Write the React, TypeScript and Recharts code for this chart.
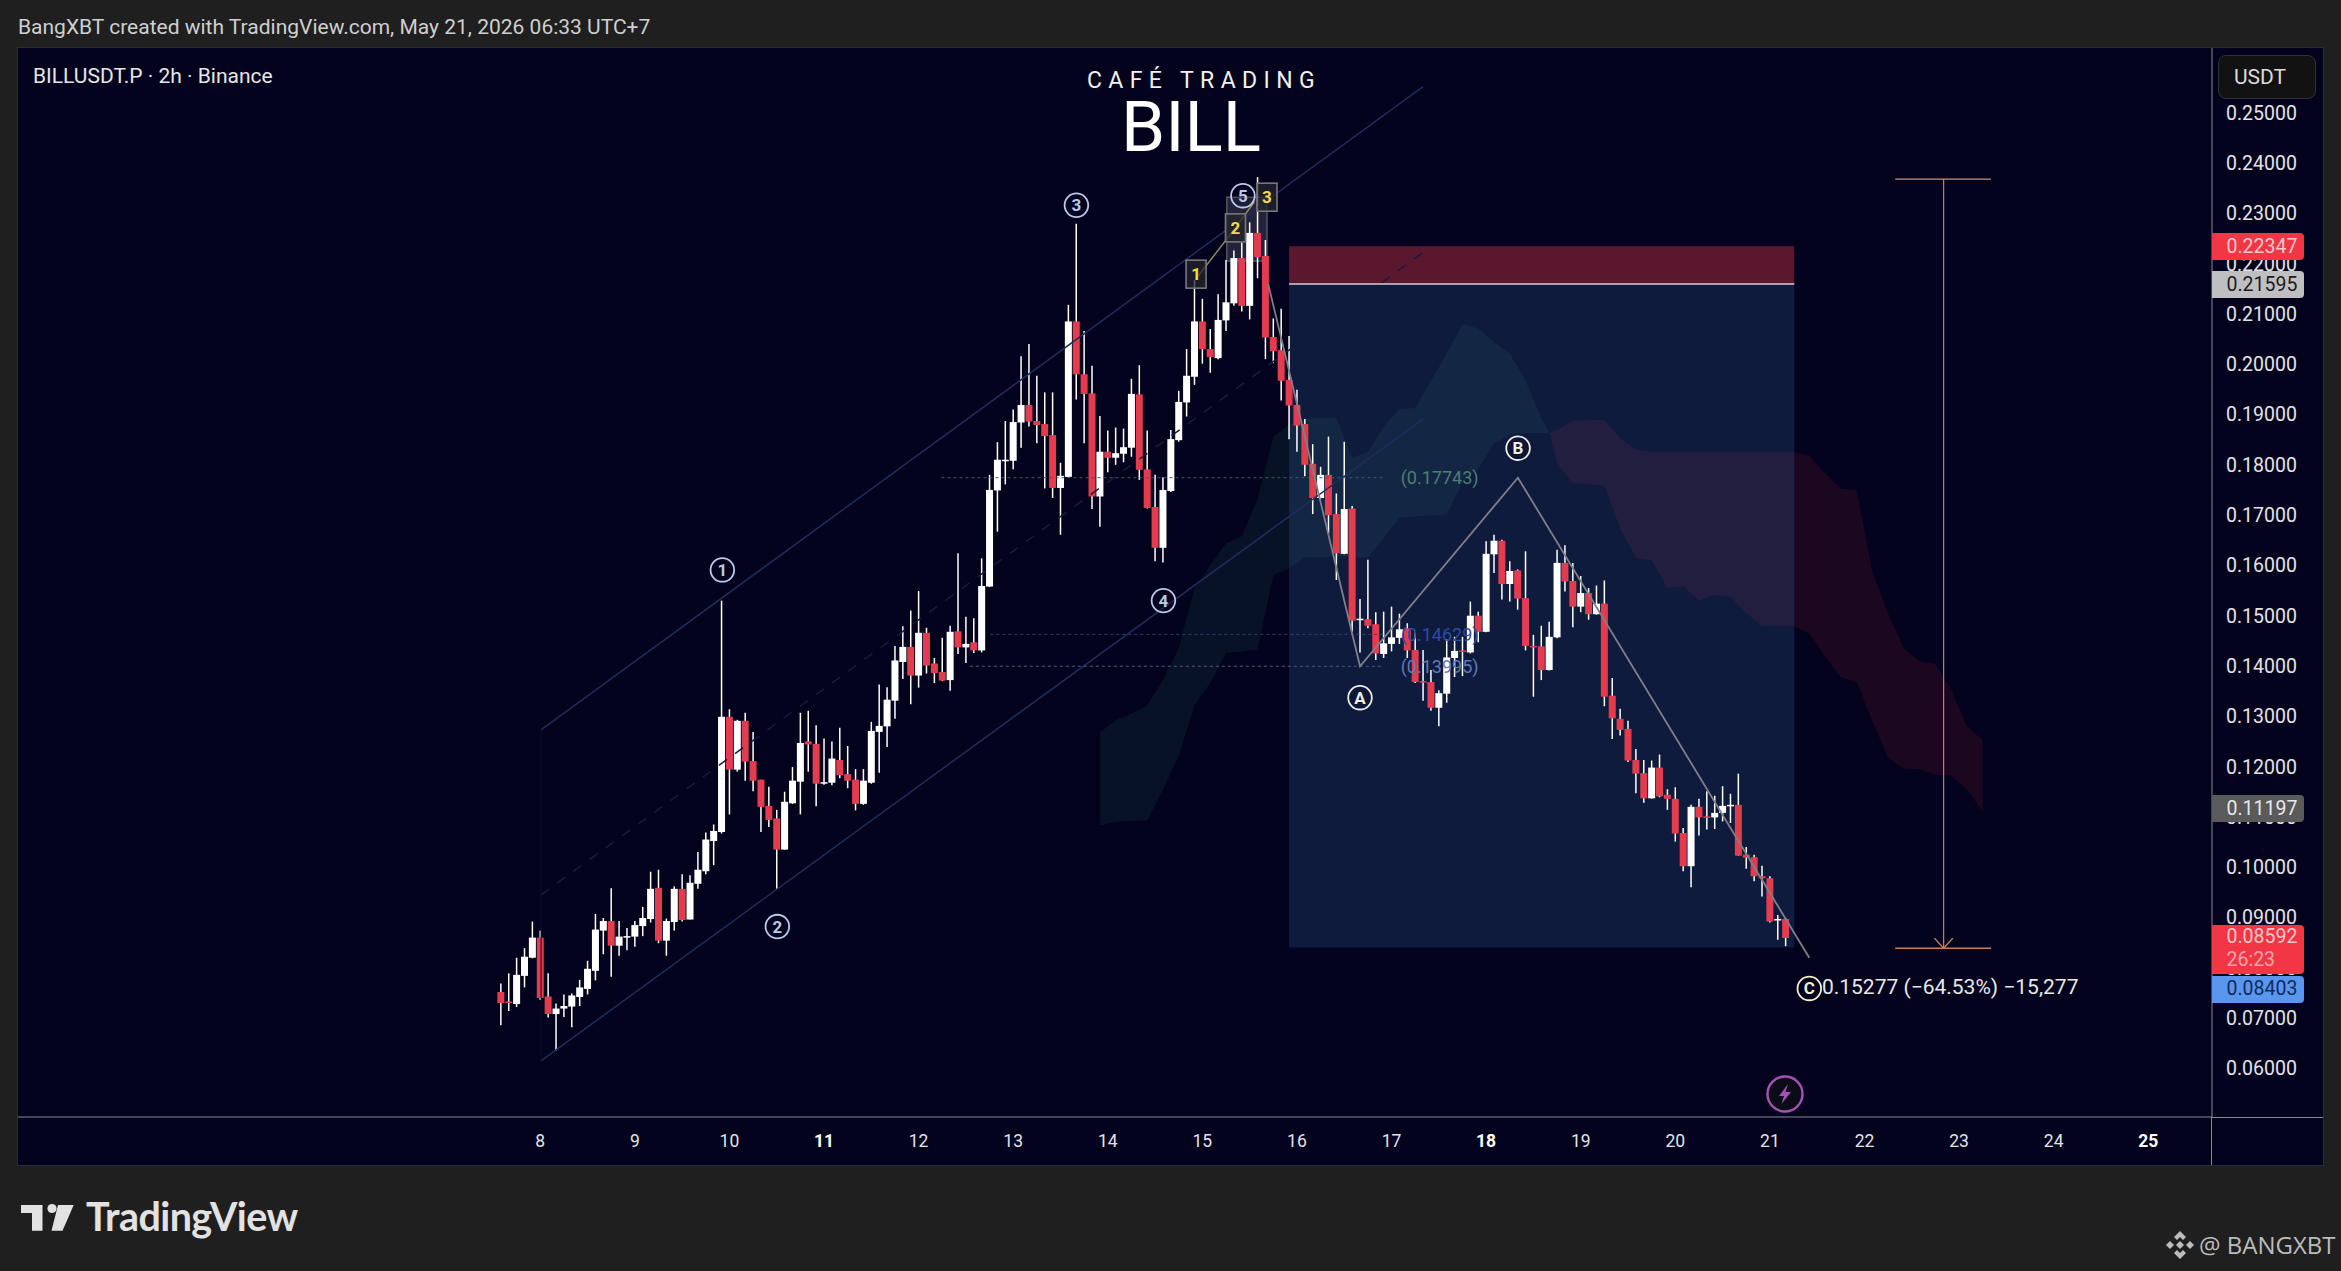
import {
  Area,
  Bar,
  ComposedChart,
  Line,
  ReferenceArea,
  ReferenceDot,
  ReferenceLine,
  XAxis,
  YAxis,
} from "recharts";

const FONT = "Roboto, sans-serif";
const RED = "#e23c4e";
const BODY_WIDTH = 7;

// 2h candles
const highs = [
  0.0769, 0.0789, 0.082, 0.0839, 0.0892, 0.0874, 0.0789, 0.0729, 0.0747, 0.0749,
  0.0776, 0.0814, 0.0907, 0.0899, 0.0958, 0.0893, 0.0879, 0.0893, 0.0921, 0.0991,
  0.0995, 0.0898, 0.0962, 0.0986, 0.0984, 0.103, 0.1069, 0.1085, 0.153, 0.1314,
  0.1293, 0.1307, 0.1269, 0.1174, 0.116, 0.1114, 0.115, 0.1199, 0.1307, 0.1311,
  0.1282, 0.1256, 0.125, 0.1277, 0.1241, 0.1195, 0.1195, 0.1289, 0.1363, 0.1358,
  0.144, 0.1479, 0.151, 0.1549, 0.1476, 0.1416, 0.1456, 0.148, 0.1624, 0.1498,
  0.1495, 0.1614, 0.178, 0.1845, 0.1887, 0.191, 0.2016, 0.204, 0.1977, 0.1944,
  0.1944, 0.1804, 0.2118, 0.2279, 0.2066, 0.1997, 0.1897, 0.1868, 0.1874, 0.1872,
  0.1971, 0.1998, 0.1868, 0.178, 0.1775, 0.1869, 0.1947, 0.203, 0.2167, 0.213,
  0.207, 0.2139, 0.2207, 0.2226, 0.2242, 0.2282, 0.2372, 0.2247, 0.2091, 0.211,
  0.2056, 0.1949, 0.1891, 0.1841, 0.1796, 0.1856, 0.1743, 0.1846, 0.1718, 0.1533,
  0.1611, 0.1507, 0.1508, 0.1518, 0.1504, 0.1485, 0.1464, 0.1432, 0.1392, 0.1352,
  0.1453, 0.1458, 0.1458, 0.1528, 0.1508, 0.1648, 0.1661, 0.1651, 0.1608, 0.1592,
  0.1628, 0.1462, 0.148, 0.1488, 0.1631, 0.164, 0.1605, 0.1579, 0.1555, 0.156,
  0.157, 0.1376, 0.1315, 0.1291, 0.1235, 0.1213, 0.1212, 0.1224, 0.1155, 0.1159,
  0.1078, 0.1124, 0.1136, 0.1151, 0.1142, 0.1161, 0.1146, 0.1186, 0.104, 0.1025,
  0.1003, 0.0982, 0.0905, 0.0899,
];

const lows = [
  0.0686, 0.0714, 0.0722, 0.0761, 0.0819, 0.0736, 0.0701, 0.0635, 0.0702, 0.0682,
  0.0724, 0.0747, 0.0775, 0.0827, 0.0782, 0.0824, 0.0835, 0.0842, 0.0863, 0.089,
  0.0849, 0.0824, 0.0874, 0.0892, 0.0896, 0.0957, 0.0986, 0.1004, 0.1067, 0.1105,
  0.119, 0.1172, 0.1151, 0.107, 0.108, 0.0957, 0.1035, 0.1126, 0.1105, 0.119,
  0.1121, 0.1164, 0.1163, 0.1177, 0.1157, 0.1113, 0.1124, 0.1166, 0.1188, 0.1239,
  0.1295, 0.1374, 0.1324, 0.1357, 0.1385, 0.1366, 0.137, 0.1351, 0.1424, 0.1406,
  0.1426, 0.1427, 0.1557, 0.1667, 0.1761, 0.1791, 0.1834, 0.1876, 0.1843, 0.1753,
  0.1734, 0.1661, 0.1775, 0.193, 0.1843, 0.1712, 0.1677, 0.1785, 0.18, 0.1805,
  0.1816, 0.177, 0.1713, 0.1608, 0.1606, 0.1746, 0.1846, 0.1896, 0.1959, 0.2001,
  0.1983, 0.201, 0.2066, 0.2116, 0.2105, 0.2089, 0.2171, 0.201, 0.2002, 0.1928,
  0.1851, 0.1826, 0.1777, 0.1702, 0.1733, 0.1664, 0.1571, 0.1622, 0.1468, 0.1427,
  0.1475, 0.1412, 0.1416, 0.1429, 0.1444, 0.1416, 0.1366, 0.1331, 0.1311, 0.128,
  0.1327, 0.1378, 0.138, 0.1425, 0.1447, 0.1467, 0.1585, 0.1532, 0.1528, 0.1512,
  0.1431, 0.1339, 0.1372, 0.1391, 0.1455, 0.1548, 0.1477, 0.1507, 0.1492, 0.1502,
  0.132, 0.1255, 0.1262, 0.1209, 0.1147, 0.1128, 0.1136, 0.1139, 0.1114, 0.1051,
  0.0992, 0.096, 0.1063, 0.1075, 0.1076, 0.1091, 0.1088, 0.1023, 0.0997, 0.0972,
  0.0942, 0.089, 0.0856, 0.0843,
];

const opens = [
  0.0752, 0.0733, 0.0728, 0.0784, 0.082, 0.086, 0.0743, 0.0708, 0.0719, 0.0723,
  0.0742, 0.0758, 0.0794, 0.0874, 0.0893, 0.0844, 0.086, 0.0862, 0.0883, 0.0897,
  0.0959, 0.0854, 0.0891, 0.0957, 0.0896, 0.0967, 0.0992, 0.1052, 0.107, 0.1299,
  0.1194, 0.1291, 0.1211, 0.1174, 0.1122, 0.1097, 0.1035, 0.1127, 0.117, 0.125,
  0.1245, 0.1166, 0.1168, 0.1213, 0.1185, 0.1174, 0.1126, 0.1168, 0.1269, 0.128,
  0.1331, 0.1408, 0.1438, 0.1381, 0.1466, 0.1405, 0.1388, 0.1372, 0.1469, 0.1437,
  0.1447, 0.1431, 0.1558, 0.1749, 0.1808, 0.1808, 0.1884, 0.1919, 0.1887, 0.1881,
  0.1859, 0.1754, 0.1776, 0.2085, 0.198, 0.1942, 0.1737, 0.1826, 0.1814, 0.1822,
  0.1834, 0.194, 0.1791, 0.1716, 0.1635, 0.1748, 0.1849, 0.1924, 0.1975, 0.2085,
  0.203, 0.2012, 0.2087, 0.2121, 0.2211, 0.2116, 0.2261, 0.2215, 0.2054, 0.2028,
  0.1969, 0.1919, 0.1881, 0.1802, 0.1734, 0.178, 0.1702, 0.1623, 0.1713, 0.1492,
  0.1493, 0.1483, 0.1424, 0.1444, 0.1456, 0.1475, 0.1432, 0.137, 0.1368, 0.1317,
  0.1345, 0.1416, 0.1431, 0.1427, 0.15, 0.1468, 0.1622, 0.1649, 0.1563, 0.159,
  0.1535, 0.144, 0.1439, 0.1392, 0.1457, 0.1605, 0.1569, 0.1518, 0.1545, 0.1503,
  0.1524, 0.1341, 0.1295, 0.1275, 0.1213, 0.1187, 0.1137, 0.1198, 0.1144, 0.1136,
  0.1068, 0.1002, 0.112, 0.1101, 0.1099, 0.1108, 0.1122, 0.1124, 0.1025, 0.102,
  0.0982, 0.0978, 0.0895, 0.0897,
];

const closes = [
  0.073, 0.073, 0.0786, 0.0822, 0.086, 0.074, 0.0708, 0.0719, 0.0724, 0.0745,
  0.0761, 0.0798, 0.0876, 0.0893, 0.0844, 0.0862, 0.0863, 0.0885, 0.0899, 0.0957,
  0.0854, 0.0893, 0.0957, 0.0895, 0.0969, 0.0995, 0.1055, 0.1072, 0.1299, 0.1194,
  0.1291, 0.121, 0.1172, 0.112, 0.1094, 0.1035, 0.113, 0.1172, 0.1247, 0.1244,
  0.1166, 0.1169, 0.1216, 0.1183, 0.1172, 0.1126, 0.1172, 0.1271, 0.1281, 0.1333,
  0.1411, 0.1438, 0.1381, 0.1466, 0.1401, 0.1386, 0.1371, 0.1468, 0.1437, 0.1444,
  0.1431, 0.1559, 0.175, 0.181, 0.181, 0.1885, 0.1919, 0.1886, 0.1879, 0.1857,
  0.1754, 0.1778, 0.2085, 0.198, 0.1941, 0.1737, 0.1826, 0.1814, 0.1823, 0.1835,
  0.1941, 0.179, 0.1714, 0.1635, 0.175, 0.1851, 0.1925, 0.1977, 0.2085, 0.203,
  0.2014, 0.2088, 0.2123, 0.2211, 0.2116, 0.2261, 0.2213, 0.2053, 0.2026, 0.1967,
  0.1918, 0.1878, 0.18, 0.1734, 0.178, 0.17, 0.1624, 0.1712, 0.149, 0.1494,
  0.148, 0.1425, 0.1445, 0.1457, 0.1473, 0.1431, 0.1368, 0.1368, 0.1317, 0.1346,
  0.1417, 0.143, 0.1428, 0.15, 0.1468, 0.1623, 0.1649, 0.1563, 0.1589, 0.1534,
  0.144, 0.1437, 0.1392, 0.1458, 0.1605, 0.1568, 0.1518, 0.1545, 0.1503, 0.1524,
  0.1339, 0.1296, 0.1273, 0.1212, 0.1186, 0.1137, 0.1198, 0.1141, 0.1136, 0.1067,
  0.1002, 0.112, 0.1099, 0.1099, 0.1108, 0.1122, 0.1124, 0.1023, 0.1019, 0.0982,
  0.0978, 0.0892, 0.0897, 0.08592,
];

// ichimoku cloud, sampled every other candle
const greenIdx = [76, 78, 80, 82, 84, 86, 88, 90, 92, 94, 96, 98, 100, 102, 104, 106, 108, 110, 112, 114, 116, 118, 120, 122, 124, 126, 128, 130, 132, 133];
const greenTop = [0.1268, 0.1292, 0.1305, 0.1322, 0.1372, 0.1436, 0.1554, 0.1601, 0.1644, 0.1658, 0.1732, 0.1856, 0.188, 0.1892, 0.1893, 0.1894, 0.1814, 0.1826, 0.1876, 0.1911, 0.1913, 0.1967, 0.2021, 0.208, 0.2071, 0.2044, 0.2021, 0.1967, 0.1893, 0.1863];
const greenBottom = [0.1083, 0.109, 0.1092, 0.1093, 0.1154, 0.1221, 0.1322, 0.1366, 0.1426, 0.1429, 0.1433, 0.1581, 0.1594, 0.1616, 0.1616, 0.1616, 0.1616, 0.1616, 0.1654, 0.1695, 0.1697, 0.1699, 0.1701, 0.1765, 0.1792, 0.1843, 0.1859, 0.1863, 0.1863, 0.1863];

const redIdx = [133, 134, 136, 138, 140, 142, 144, 146, 148, 150, 152, 154, 156, 158, 160, 162, 164, 166, 168, 170, 172, 174, 176, 178, 180, 182, 184, 186, 188];
const redTop = [0.1863, 0.1869, 0.1888, 0.1889, 0.1889, 0.1853, 0.183, 0.1826, 0.1826, 0.1826, 0.1826, 0.1826, 0.1826, 0.1826, 0.1826, 0.1826, 0.1826, 0.1818, 0.1783, 0.1753, 0.175, 0.1588, 0.1505, 0.1435, 0.1409, 0.1404, 0.1353, 0.128, 0.1253];
const redBottom = [0.1863, 0.1803, 0.1763, 0.1762, 0.1758, 0.1674, 0.1614, 0.161, 0.1555, 0.1559, 0.153, 0.1541, 0.1537, 0.1505, 0.148, 0.148, 0.1479, 0.1465, 0.1419, 0.1377, 0.1369, 0.129, 0.1217, 0.1196, 0.1194, 0.1184, 0.1182, 0.1154, 0.1111];

const dayLabels = ["8", "9", "10", "11", "12", "13", "14", "15", "16", "17", "18", "19", "20", "21", "22", "23", "24", "25"];
const dayTicks = [5, 17, 29, 41, 53, 65, 77, 89, 101, 113, 125, 137, 149, 161, 173, 185, 197, 209];
const boldDays = ["11", "18", "25"];
const priceTicks = [0.06, 0.07, 0.08, 0.09, 0.1, 0.11, 0.12, 0.13, 0.14, 0.15, 0.16, 0.17, 0.18, 0.19, 0.2, 0.21, 0.22, 0.23, 0.24, 0.25];

const abcPath = [
  { i: 97.35, p: 0.21595 },
  { i: 109, p: 0.13995 },
  { i: 129.03, p: 0.17743 },
  { i: 166, p: 0.082 },
];
const ratePath = [
  { i: 88.1, p: 0.2168 },
  { i: 93, p: 0.2267 },
  { i: 95.6, p: 0.2323 },
];

const waveLabels = [
  { t: "1", i: 28.1, p: 0.1591, c: "#b9c8ec" },
  { t: "2", i: 35.08, p: 0.0882, c: "#b9c8ec" },
  { t: "3", i: 73.02, p: 0.2316, c: "#b9c8ec" },
  { t: "4", i: 84.06, p: 0.153, c: "#b9c8ec" },
  { t: "5", i: 94.14, p: 0.2335, c: "#b9c8ec" },
  { t: "A", i: 109, p: 0.1337, c: "#eeeee2" },
  { t: "B", i: 129.05, p: 0.1833, c: "#eeeee2" },
  { t: "C", i: 166, p: 0.0759, c: "#f2eec8" },
];

const rateBoxes = [
  { t: "1", i: 88.2, p: 0.2179 },
  { t: "2", i: 93.2, p: 0.2271 },
  { t: "3", i: 97.2, p: 0.2332 },
];

const fibLines = [
  { p: 0.17743, from: 55.9, label: "(0.17743)", color: "#4d7f74", line: "#3b5a5e" },
  { p: 0.14629, from: 62.1, label: "(0.14629)", color: "#2c4da6", line: "#2f3f78" },
  { p: 0.13995, from: 59.5, label: "(0.13995)", color: "#607ab8", line: "#4a5a8c" },
];

const channelLines = [
  { a: { x: 5.1, y: 0.1273 }, b: { x: 117, y: 0.2552 }, dash: undefined },
  { a: { x: 5.1, y: 0.0945 }, b: { x: 117, y: 0.2222 }, dash: "10 10" },
  { a: { x: 5.1, y: 0.0615 }, b: { x: 117, y: 0.1891 }, dash: undefined },
];

const candles = highs.map((h, i) => ({ i, high: h, low: lows[i], open: opens[i], close: closes[i] }));
const greenCloud = greenIdx.map((i, n) => ({ i, band: [greenBottom[n], greenTop[n]] }));
const redCloud = redIdx.map((i, n) => ({ i, band: [redBottom[n], redTop[n]] }));

function Candle(props: any) {
  const { x, y, width, height, payload } = props;
  if (!payload || payload.high == null) return null;
  const perUnit = height / (payload.high - payload.low);
  const top = y + (payload.high - Math.max(payload.open, payload.close)) * perUnit;
  const bot = y + (payload.high - Math.min(payload.open, payload.close)) * perUnit;
  const up = payload.close >= payload.open;
  const mid = x + (width || 0) / 2;
  return (
    <g>
      <line x1={mid} x2={mid} y1={y} y2={y + height} stroke="#ffffff" strokeWidth={1.5} />
      <rect x={mid - BODY_WIDTH / 2} y={top} width={BODY_WIDTH} height={Math.max(bot - top, 1.5)} fill={up ? "#ffffff" : RED} />
    </g>
  );
}

function DayTick(props: any) {
  const { x, y, payload } = props;
  const label = dayLabels[dayTicks.indexOf(payload.value)];
  const bold = boldDays.includes(label);
  return (
    <text x={x} y={y + 22} textAnchor="middle" fontFamily={FONT} fontSize={17.5} fontWeight={bold ? 700 : 400} fill={bold ? "#ffffff" : "#e2e2e6"}>
      {label}
    </text>
  );
}

function PriceTag({ top, height, bg, color, text, sub }: { top: number; height: number; bg: string; color: string; text: string; sub?: string }) {
  return (
    <div style={{ position: "absolute", left: 2212, top, width: 92, height, background: bg, borderRadius: "0 4px 4px 0", color, fontFamily: FONT, fontSize: 19.5, lineHeight: sub ? "23px" : `${height}px`, paddingLeft: 14.5, boxSizing: "border-box" }}>
      <div>{text}</div>
      {sub ? <div style={{ opacity: 0.75 }}>{sub}</div> : null}
    </div>
  );
}

export default function App() {
  return (
    <div style={{ position: "absolute", left: 0, top: 0, width: 2341, height: 1271, background: "#1f1f1f", overflow: "hidden" }}>
      <div style={{ position: "absolute", left: 18, top: 16, color: "#cfcfcf", fontFamily: FONT, fontSize: 21, lineHeight: "22px", whiteSpace: "nowrap" }}>
        BangXBT created with TradingView.com, May 21, 2026 06:33 UTC+7
      </div>
      <div style={{ position: "absolute", left: 18, top: 48, width: 2305, height: 1117, background: "#03031e", outline: "1px solid #2c2c36" }} />
      <div style={{ position: "absolute", left: 2212, top: 1117, width: 111, height: 1, background: "#85859a" }} />
      <div style={{ position: "absolute", left: 2211, top: 1117, width: 1, height: 48, background: "#85859a" }} />

      <div style={{ position: "absolute", left: 0, top: 0 }}>
        <ComposedChart width={2341} height={1271} data={candles} margin={{ top: 48, right: 18, bottom: 105, left: 18 }}>
          <XAxis
            dataKey="i"
            type="number"
            scale="linear"
            domain={[-61.26, 217.09]}
            allowDataOverflow
            ticks={dayTicks}
            interval={0}
            height={49}
            tickLine={false}
            axisLine={{ stroke: "#85859a", strokeWidth: 1 }}
            tick={<DayTick />}
          />
          <YAxis
            orientation="right"
            type="number"
            domain={[0.05034, 0.26286]}
            allowDataOverflow
            ticks={priceTicks}
            interval={0}
            width={111}
            tickLine={false}
            tickMargin={8}
            axisLine={{ stroke: "#85859a", strokeWidth: 1 }}
            tick={{ fill: "#e3e3e6", fontSize: 19.5, fontFamily: FONT }}
            tickFormatter={(v: number) => v.toFixed(5)}
          />

          <Area data={greenCloud} dataKey="band" type="linear" stroke="none" fill="#2c8060" fillOpacity={0.125} isAnimationActive={false} />
          <Area data={redCloud} dataKey="band" type="linear" stroke="none" fill="#a8202f" fillOpacity={0.15} isAnimationActive={false} />

          <ReferenceArea x1={100} x2={164.09} y1={0.08403} y2={0.21595} fill="#33639a" fillOpacity={0.25} stroke="none" />
          <ReferenceArea x1={100} x2={164.09} y1={0.21595} y2={0.22347} fill="#5a182e" fillOpacity={1} stroke="none" />
          <ReferenceLine segment={[{ x: 100, y: 0.21595 }, { x: 164.09, y: 0.21595 }]} stroke="#d8ccd4" strokeWidth={1.5} />
          <ReferenceArea x1={92.1} x2={97.2} y1={0.2205} y2={0.2332} fill="#ffffff" fillOpacity={0.13} stroke="#55555c" strokeWidth={1.5} />

          {channelLines.map((c, n) => (
            <ReferenceLine key={n} segment={[c.a, c.b]} stroke={c.dash ? "#171c3c" : "#222c5c"} strokeWidth={1.5} strokeDasharray={c.dash} />
          ))}
          <ReferenceLine segment={[{ x: 5.1, y: 0.1273 }, { x: 5.1, y: 0.0615 }]} stroke="#0c0f29" strokeWidth={1} />

          {fibLines.map((f) => (
            <ReferenceLine key={f.p} segment={[{ x: f.from, y: f.p }, { x: 112, y: f.p }]} stroke={f.line} strokeWidth={1} strokeDasharray="3 3" />
          ))}
          {fibLines.map((f) => (
            <ReferenceDot
              key={f.label}
              x={119.1}
              y={f.p}
              r={1}
              shape={(s: any) => (
                <text x={s.cx} y={s.cy + 6.5} textAnchor="middle" fontFamily={FONT} fontSize={18} fill={f.color}>
                  {f.label}
                </text>
              )}
            />
          ))}

          {/* measure tool */}
          <ReferenceLine segment={[{ x: 183.04, y: 0.2368 }, { x: 183.04, y: 0.0839 }]} stroke="#c08068" strokeWidth={1.2} />
          <ReferenceLine segment={[{ x: 176.9, y: 0.2368 }, { x: 189.05, y: 0.2368 }]} stroke="#c9927a" strokeWidth={1.4} />
          <ReferenceLine segment={[{ x: 176.9, y: 0.0839 }, { x: 189.05, y: 0.0839 }]} stroke="#c08068" strokeWidth={1.4} />
          <ReferenceLine segment={[{ x: 183.04, y: 0.0839 }, { x: 181.87, y: 0.0859 }]} stroke="#c08068" strokeWidth={1.4} />
          <ReferenceLine segment={[{ x: 183.04, y: 0.0839 }, { x: 184.21, y: 0.0859 }]} stroke="#c08068" strokeWidth={1.4} />

          <Line data={abcPath} dataKey="p" stroke="#7f7f88" strokeWidth={1.8} dot={false} isAnimationActive={false} />

          <Bar dataKey={(d: any) => [d.low, d.high]} barSize={BODY_WIDTH} shape={<Candle />} isAnimationActive={false} />

          <Line data={ratePath} dataKey="p" stroke="#8b8a5c" strokeWidth={1.5} dot={false} isAnimationActive={false} />

          {rateBoxes.map((b) => (
            <ReferenceDot
              key={b.t}
              x={b.i}
              y={b.p}
              r={1}
              shape={(s: any) => (
                <g>
                  <rect x={s.cx - 10} y={s.cy - 14} width={20} height={28} fill="#26262c" fillOpacity={0.75} stroke="#77777c" strokeWidth={1.6} />
                  <text x={s.cx} y={s.cy + 6} textAnchor="middle" fontFamily={FONT} fontSize={17} fontWeight={700} fill="#efdc4a">
                    {b.t}
                  </text>
                </g>
              )}
            />
          ))}
          {waveLabels.map((w) => (
            <ReferenceDot
              key={w.t}
              x={w.i}
              y={w.p}
              r={1}
              shape={(s: any) => (
                <g>
                  <circle cx={s.cx} cy={s.cy} r={11.8} fill="#03031e" fillOpacity={0.15} stroke={w.c} strokeWidth={1.8} />
                  <text x={s.cx} y={s.cy + 6} textAnchor="middle" fontFamily={FONT} fontSize={17} fontWeight={700} fill={w.c}>
                    {w.t}
                  </text>
                </g>
              )}
            />
          ))}
          <ReferenceDot
            x={167.6}
            y={0.0762}
            r={1}
            shape={(s: any) => (
              <text x={s.cx} y={s.cy + 7} fontFamily={FONT} fontSize={21} fill="#e8e8e8">
                0.15277 (−64.53%) −15,277
              </text>
            )}
          />
        </ComposedChart>
      </div>

      <div style={{ position: "absolute", left: 33, top: 64, color: "#e6e6e6", fontFamily: FONT, fontSize: 21, lineHeight: "24px", whiteSpace: "nowrap" }}>
        BILLUSDT.P · 2h · Binance
      </div>
      <div style={{ position: "absolute", left: 1004, top: 67, width: 400, textAlign: "center", color: "#f2f2f2", fontFamily: FONT, fontSize: 23, lineHeight: "28px", letterSpacing: 6.4 }}>
        CAFÉ TRADING
      </div>
      <div style={{ position: "absolute", left: 991, top: 86, width: 400, textAlign: "center", color: "#ffffff", fontFamily: FONT, fontSize: 71, lineHeight: "82px" }}>
        BILL
      </div>

      <div style={{ position: "absolute", left: 2218, top: 55, width: 98, height: 44, boxSizing: "border-box", background: "#121212", border: "1px solid #30303a", borderRadius: 8, color: "#dcdcdc", fontFamily: FONT, fontSize: 21, lineHeight: "42px", paddingLeft: 15 }}>
        USDT
      </div>

      <PriceTag top={232.5} height={27} bg="#f23645" color="#f6c9cd" text="0.22347" />
      <PriceTag top={271} height={27} bg="#bfbfc2" color="#1c1c1c" text="0.21595" />
      <PriceTag top={794.5} height={27} bg="#5a5a5a" color="#e8e8e8" text="0.11197" />
      <PriceTag top={925} height={49} bg="#f23645" color="#f6c9cd" text="0.08592" sub="26:23" />
      <PriceTag top={976} height={26.5} bg="#5a96ee" color="#0f2a5c" text="0.08403" />

      {/* alert marker */}
      <svg style={{ position: "absolute", left: 1765, top: 1074 }} width={40} height={40}>
        <circle cx={20} cy={20} r={17.5} fill="#0c0c18" stroke="#a352b2" strokeWidth={2.4} />
        <path d="M23 10 L14 22 H19 L16.5 30 L26 18 H20.5 Z" fill="#a352b2" />
      </svg>

      {/* footer logo */}
      <svg style={{ position: "absolute", left: 18, top: 1200 }} width={60} height={36} fill="#e2e2e2">
        <path d="M3 5 H24.5 V30.7 H14 V13 H3 Z" />
        <circle cx={34} cy={8.5} r={4.6} />
        <path d="M40 5 H55.7 L44.5 30.7 H33.5 Z" />
      </svg>
      <div style={{ position: "absolute", left: 86, top: 1193, color: "#e2e2e2", fontFamily: "Lato, sans-serif", fontWeight: 700, fontSize: 39.5, lineHeight: "46px", letterSpacing: -0.6, whiteSpace: "nowrap" }}>
        TradingView
      </div>

      <svg style={{ position: "absolute", left: 2165, top: 1230 }} width={30} height={30} fill="#bdbdbd">
        <path d="M15 1 L21 7 L18 10 L15 7 L12 10 L9 7 Z" />
        <path d="M15 29 L21 23 L18 20 L15 23 L12 20 L9 23 Z" />
        <path d="M5 11 L9 15 L5 19 L1 15 Z" />
        <path d="M25 11 L29 15 L25 19 L21 15 Z" />
        <path d="M15 11 L19 15 L15 19 L11 15 Z" />
      </svg>
      <div style={{ position: "absolute", left: 2199, top: 1231, color: "#bcbcbc", fontFamily: "'Open Sans', sans-serif", fontSize: 24, lineHeight: "28px", whiteSpace: "nowrap" }}>
        @ BANGXBT
      </div>
    </div>
  );
}
